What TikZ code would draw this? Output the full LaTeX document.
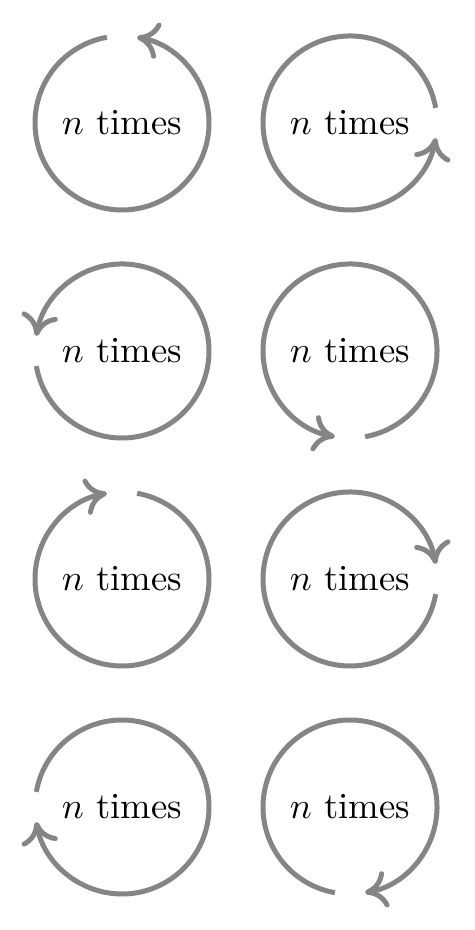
\documentclass[tikz,border=0pt]{standalone}
\usetikzlibrary{arrows.meta}
\begin{document}
\begin{tikzpicture}[x=0.2725pt,y=0.2725pt,
  lbl/.style={inner sep=0pt},
  loop/.style={draw=black!48,line width=5*0.2725pt,-{To[length=6pt,width=10pt]}}]
\useasboundingbox (0,0) rectangle (474,930);
\node[lbl] (a) at (122,807) {$n$ times};
\node[lbl] (b) at (350,807) {$n$ times};
\node[lbl] (c) at (122,579) {$n$ times};
\node[lbl] (d) at (350,579) {$n$ times};
\node[lbl] (e) at (122,351) {$n$ times};
\node[lbl] (f) at (350,351) {$n$ times};
\node[lbl] (g) at (122,123) {$n$ times};
\node[lbl] (h) at (350,123) {$n$ times};
% counterclockwise
\draw[loop] ([shift={(100:87)}]a.center) arc[start angle=100,end angle=440,radius=87];
\draw[loop] ([shift={(10:87)}]b.center) arc[start angle=10,end angle=350,radius=87];
\draw[loop] ([shift={(190:87)}]c.center) arc[start angle=190,end angle=530,radius=87];
\draw[loop] ([shift={(280:87)}]d.center) arc[start angle=280,end angle=620,radius=87];
% clockwise
\draw[loop] ([shift={(80:87)}]e.center) arc[start angle=80,end angle=-260,radius=87];
\draw[loop] ([shift={(-10:87)}]f.center) arc[start angle=-10,end angle=-350,radius=87];
\draw[loop] ([shift={(170:87)}]g.center) arc[start angle=170,end angle=-170,radius=87];
\draw[loop] ([shift={(260:87)}]h.center) arc[start angle=260,end angle=-80,radius=87];
\end{tikzpicture}
\end{document}
